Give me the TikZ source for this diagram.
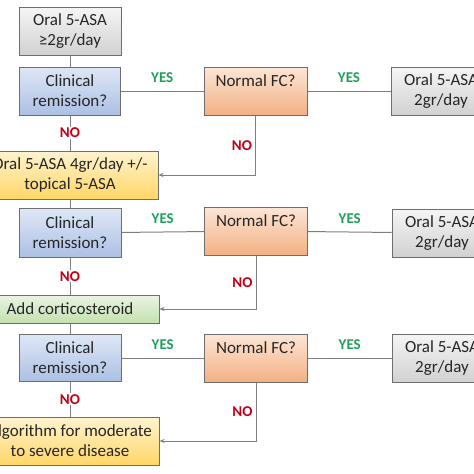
\documentclass[tikz,border=0pt]{standalone}
\usepackage{fontspec}
\setmainfont{Carlito}
\usetikzlibrary{arrows.meta}
\definecolor{edgegray}{HTML}{6E6E6E}
\definecolor{linegray}{HTML}{7F7F7F}
\definecolor{yesgreen}{HTML}{1FA05A}
\definecolor{nored}{HTML}{C00018}
\tikzset{
  box/.style={draw=edgegray, line width=1pt, align=center, inner sep=1pt,
    font=\fontsize{17}{20}\selectfont, text=black!85},
  graybox/.style={box, top color=white!96!black, bottom color=white!82!black},
  bluebox/.style={box, top color={rgb,255:red,222;green,231;blue,246}, bottom color={rgb,255:red,172;green,192;blue,228}},
  orangebox/.style={box, top color={rgb,255:red,252;green,230;blue,214}, bottom color={rgb,255:red,243;green,176;blue,131}},
  yellowbox/.style={box, top color={rgb,255:red,255;green,244;blue,208}, bottom color={rgb,255:red,255;green,214;blue,102}},
  greenbox/.style={box, top color={rgb,255:red,234;green,244;blue,226}, bottom color={rgb,255:red,196;green,224;blue,176}},
  conn/.style={draw=linegray, line width=1pt},
  arr/.style={conn, -{Stealth[length=5pt,width=4pt]}},
  yeslab/.style={font=\fontsize{15}{15}\selectfont\bfseries, text=yesgreen},
  nolab/.style={font=\fontsize{15}{15}\selectfont\bfseries, text=nored, fill=white, inner sep=1pt}
}
\begin{document}
\begin{tikzpicture}[x=1pt,y=-1pt]
\useasboundingbox (0,0) rectangle (474,474);
\clip (0,0) rectangle (474,474);
% left column
\node[graybox, minimum width=102pt, minimum height=48pt] (start) at (70,31) {Oral 5-ASA\\≥2gr/day};
\node[bluebox, minimum width=101pt, minimum height=48pt] (cr1) at (70,91) {Clinical\\remission?};
\node[yellowbox, minimum width=176pt, minimum height=48pt] (step1) at (70,175) {Oral 5-ASA 4gr/day +/-\\topical 5-ASA};
\node[bluebox, minimum width=102pt, minimum height=49pt] (cr2) at (70,233) {Clinical\\remission?};
\node[greenbox, minimum width=178pt, minimum height=28pt] (step2) at (70,309) {Add corticosteroid};
\node[bluebox, minimum width=102pt, minimum height=47pt] (cr3) at (70,358) {Clinical\\remission?};
\node[yellowbox, minimum width=178pt, minimum height=48pt] (step3) at (70,441) {Algorithm for moderate\\to severe disease};
% middle column
\node[orangebox, minimum width=103pt, minimum height=48pt] (fc1) at (255.5,91) {Normal FC?\\\mbox{}};
\node[orangebox, minimum width=103pt, minimum height=48pt] (fc2) at (256,231) {Normal FC?\\\mbox{}};
\node[orangebox, minimum width=103pt, minimum height=48pt] (fc3) at (256,358) {Normal FC?\\\mbox{}};
% right column
\node[graybox, minimum width=100pt, minimum height=48pt] (m1) at (441,91) {Oral 5-ASA\\2gr/day};
\node[graybox, minimum width=100pt, minimum height=48pt] (m2) at (442,233) {Oral 5-ASA\\2gr/day};
\node[graybox, minimum width=100pt, minimum height=48pt] (m3) at (442,358) {Oral 5-ASA\\2gr/day};
% vertical connectors
\draw[conn] (start) -- (cr1);
\draw[conn] (cr1) -- node[nolab, pos=0.5] {NO} (step1);
\draw[conn] (step1) -- (cr2);
\draw[conn] (cr2) -- node[nolab, pos=0.5] {NO} (step2);
\draw[conn] (step2) -- (cr3);
\draw[conn] (cr3) -- node[nolab, pos=0.5] {NO} (step3);
% yes connectors
\draw[conn] (cr1) -- node[yeslab, above=5pt] {YES} (fc1);
\draw[conn] (fc1) -- node[yeslab, above=5pt] {YES} (m1);
\draw[conn] (cr2) -- node[yeslab, above=5pt] {YES} (fc2);
\draw[conn] (fc2) -- node[yeslab, above=5pt] {YES} (m2);
\draw[conn] (cr3) -- node[yeslab, above=5pt] {YES} (fc3);
\draw[conn] (fc3) -- node[yeslab, above=5pt] {YES} (m3);
% no back connectors
\draw[arr] (fc1.south) -- node[nolab, left=2pt, fill=none] {NO} (fc1.south |- step1.east) -- (step1.east);
\draw[arr] (fc2.south) -- node[nolab, left=2pt, fill=none] {NO} (fc2.south |- step2.east) -- (step2.east);
\draw[arr] (fc3.south) -- node[nolab, left=2pt, fill=none] {NO} (fc3.south |- step3.east) -- (step3.east);
\end{tikzpicture}
\end{document}
